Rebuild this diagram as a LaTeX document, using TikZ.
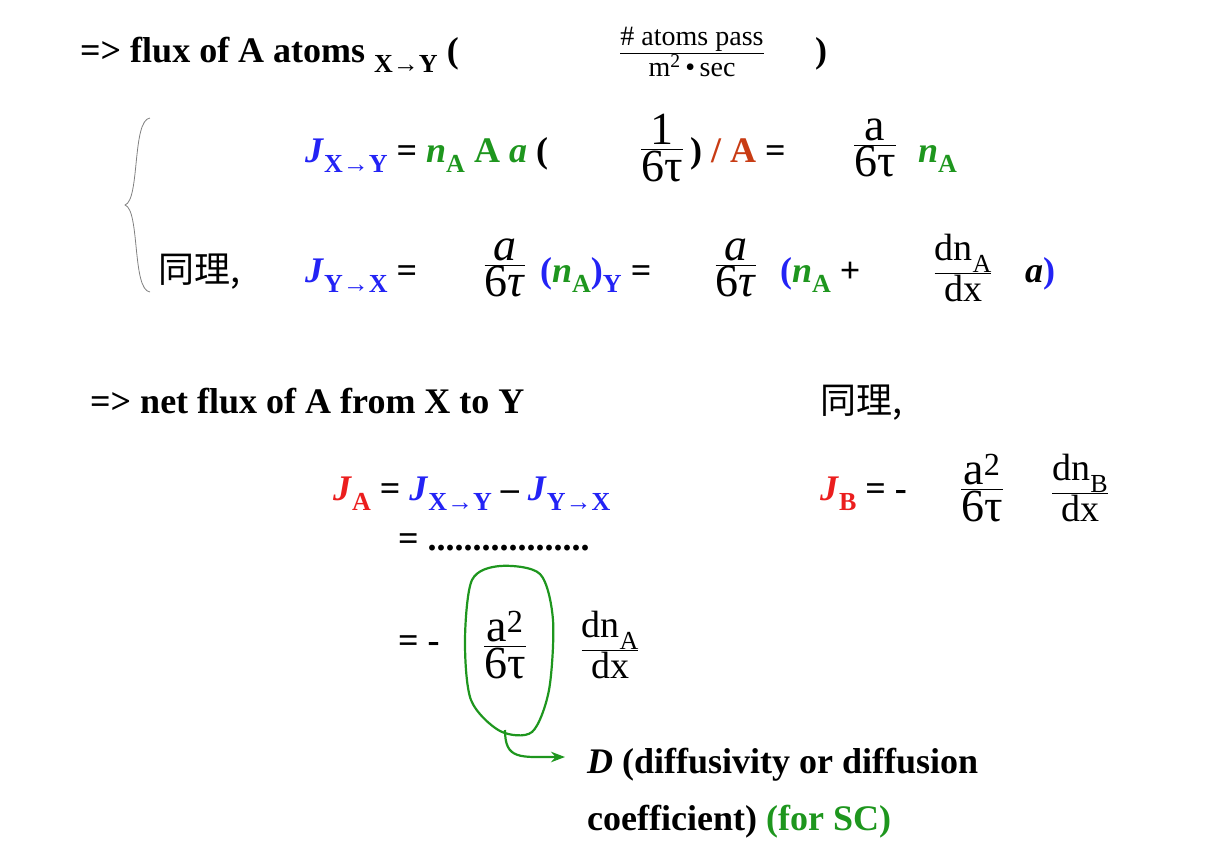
\documentclass[tikz,border=0pt]{standalone}
\usepackage{fontspec}
\usepackage{amsmath}
\usetikzlibrary{arrows.meta}
\setmainfont{Liberation Serif}
\newfontfamily\cjk{Noto Sans CJK SC}
\definecolor{jb}{RGB}{35,35,245}
\definecolor{jg}{RGB}{30,150,30}
\definecolor{jr}{RGB}{235,30,30}
\definecolor{jo}{RGB}{200,60,20}
\newcommand{\sbs}[1]{\raisebox{-0.3em}{\fontsize{26}{26}\selectfont #1}}
\newcommand{\bigbf}{\fontsize{36}{40}\selectfont\bfseries}
\newcommand{\fr}[3]{$\displaystyle\frac{\text{\fontsize{#1}{#1}\selectfont #2}}{\text{\fontsize{#1}{#1}\selectfont #3}}$}
\tikzset{t/.style={anchor=base west,inner sep=0pt,font=\bigbf},
 f/.style={inner sep=0pt}}
\begin{document}
\begin{tikzpicture}[x=1pt,y=-1pt]
\useasboundingbox (0,0) rectangle (1224,860);
% line 1
\node[t] (l1) at (80,62) {=> flux of A atoms \sbs{X→Y} (};
\node[f] (f1) at (692,52) {\fr{28}{\# atoms pass}{m\textsuperscript{2}\,•\,sec}};
\node[t] (l1b) at (815,62) {)};
% brace
\draw[gray,thick] (150,118) .. controls (132,120) and (140,200) .. (125,205) .. controls (140,210) and (132,290) .. (150,292);
% line 2
\node[t] (l2) at (305,162) {\textcolor{jb}{\textit{J}\sbs{X→Y}} = \textcolor{jg}{\textit{n}\sbs{A}} \textcolor{jg}{A} \textcolor{jg}{\textit{a}} (};
\node[f] (f2) at (662,148) {\fr{46}{1}{6τ}};
\node[t] (l2b) at (690,162) {) \textcolor{jo}{/ A} =};
\node[f] (f3) at (875,148) {\fr{46}{a}{6τ}};
\node[t] (l2c) at (918,162) {\textcolor{jg}{\textit{n}\sbs{A}}};
% line 3
\node[t] (l3a) at (158,282) {\cjk\fontsize{36}{40}\selectfont\mdseries 同理,};
\node[t] (l3) at (305,282) {\textcolor{jb}{\textit{J}\sbs{Y→X}} =};
\node[f] (f4) at (505,268) {\fr{46}{\textit{a}}{6\textit{τ}}};
\node[t] (l3b) at (540,282) {\textcolor{jb}{(}\textcolor{jg}{\textit{n}\sbs{A}}\textcolor{jb}{)\sbs{Y}} =};
\node[f] (f5) at (736,268) {\fr{46}{\textit{a}}{6\textit{τ}}};
\node[t] (l3c) at (780,282) {\textcolor{jb}{(}\textcolor{jg}{\textit{n}\sbs{A}} +};
\node[f] (f6) at (963,268) {\fr{38}{dn\sbs{A}}{dx}};
\node[t] (l3d) at (1025,282) {\textit{a}\textcolor{jb}{)}};
% line 4
\node[t] (l4) at (90,413) {=> net flux of A from X to Y};
\node[t] (l4b) at (820,413) {\cjk\fontsize{36}{40}\selectfont\mdseries 同理,};
\node[t] (l5) at (333,500) {\textcolor{jr}{\textit{J}\sbs{A}} = \textcolor{jb}{\textit{J}\sbs{X→Y}} – \textcolor{jb}{\textit{J}\sbs{Y→X}}};
\node[t] (l6) at (398,550) {= ..................};
\node[t] (l7) at (398,652) {= -};
\node[f] (f7) at (505,645) {\fr{46}{a\textsuperscript{2}}{6τ}};
\node[f] (f8) at (610,645) {\fr{38}{dn\sbs{A}}{dx}};
\node[t] (l8) at (820,500) {\textcolor{jr}{\textit{J}\sbs{B}} = -};
\node[f] (f9) at (982,488) {\fr{46}{a\textsuperscript{2}}{6τ}};
\node[f] (f10) at (1080,488) {\fr{38}{dn\sbs{B}}{dx}};
% loop and arrow
\draw[jg,line width=2.2pt] plot[smooth cycle] coordinates {(500,566) (540,574) (553,620) (549,690) (532,732) (500,731) (471,700) (465,640) (472,580)};
\coordinate (s) at (505,730);
\coordinate (e) at (565,757);
\node[t] (d1) at (587,773) {\textit{D} (diffusivity or diffusion};
\node[t] (d2) at (587,830) {coefficient) \textcolor{jg}{(for SC)}};
\draw[jg,line width=2.2pt,-{Stealth[length=14pt]}] (s) .. controls (505,760) and (520,757) .. (e);
\end{tikzpicture}
\end{document}
